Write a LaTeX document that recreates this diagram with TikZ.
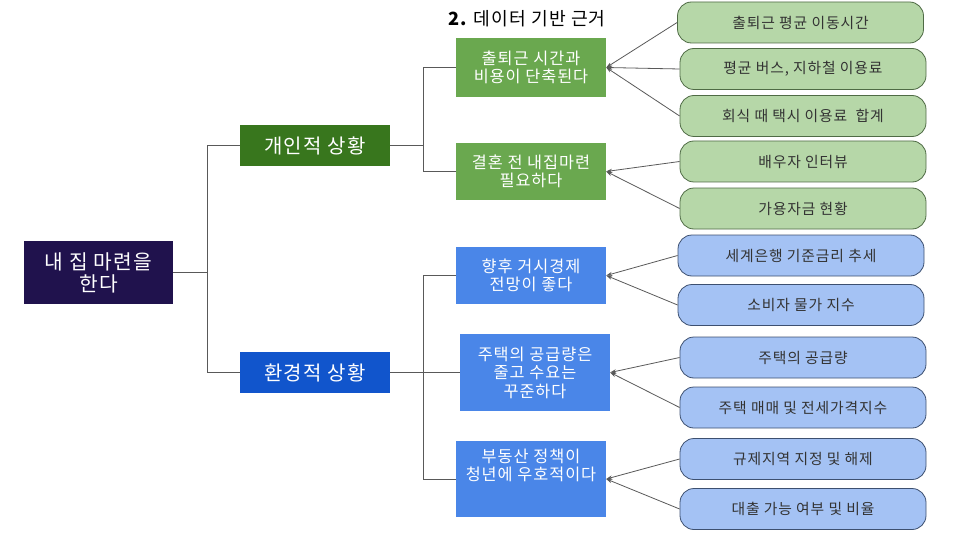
\documentclass[tikz,border=0pt]{standalone}
\usepackage{fontspec}
\newfontfamily\kr[LetterSpace=6]{Noto Sans CJK KR}
\usetikzlibrary{arrows.meta}
\definecolor{rootc}{HTML}{20124D}
\definecolor{persc}{HTML}{38761D}
\definecolor{envc}{HTML}{1155CC}
\definecolor{claimg}{HTML}{6AA84F}
\definecolor{claimb}{HTML}{4A86E8}
\definecolor{datag}{HTML}{B6D7A8}
\definecolor{datab}{HTML}{A4C2F4}
\definecolor{edgeg}{HTML}{4F6B45}
\definecolor{edgeb}{HTML}{3D5070}
\definecolor{linec}{HTML}{595959}
\definecolor{textc}{HTML}{333333}
\tikzset{
  rootbox/.style={fill=rootc, text=white, inner sep=0pt, minimum width=149pt, minimum height=63pt,
    align=center, font=\kr\fontsize{20.3}{22}\selectfont},
  sitbox/.style={text=white, inner sep=0pt, minimum width=150pt, minimum height=41pt,
    font=\kr\fontsize{20}{22}\selectfont},
  claimbox/.style={text=white, inner sep=0pt, minimum width=150pt, align=center,
    font=\kr\fontsize{16.3}{18.5}\selectfont},
  databox/.style={rounded corners=14pt, line width=0.8pt, text=textc, inner sep=0pt,
    minimum width=246pt, minimum height=41pt, font=\kr\fontsize{14.8}{17}\selectfont},
  link/.style={draw=linec, line width=0.8pt},
  cite/.style={link, -{Stealth[length=6pt,width=4pt]}}
}
\begin{document}
\begin{tikzpicture}[x=1pt,y=-1pt]
  \useasboundingbox (0,0) rectangle (960,540);
  \node[rootbox] (home) at (98.5,272.5) {내 집 마련을\\한다};
  \node[sitbox, fill=persc] (pers) at (315,145.5) {개인적 상황};
  \node[sitbox, fill=envc] (env) at (315,372.5) {환경적 상황};
  \node[font=\kr\fontsize{18.2}{20}\selectfont] (title) at (527,19) {{\bfseries 2.} 데이터 기반 근거};

  \node[claimbox, fill=claimg, minimum height=59pt] (commute) at (531,67.5) {출퇴근 시간과\\비용이 단축된다};
  \node[claimbox, fill=claimg, minimum height=57pt] (marry) at (531,171.5) {결혼 전 내집마련\\필요하다};
  \node[claimbox, fill=claimb, minimum height=57pt] (macro) at (531,275.5) {향후 거시경제\\전망이 좋다};
  \node[claimbox, fill=claimb, minimum height=77pt] (supply) at (535,372.5) {주택의 공급량은\\줄고 수요는\\꾸준하다};
  \node[claimbox, fill=claimb, minimum height=76pt, text depth=28pt] (policy) at (531,479) {부동산 정책이\\청년에 우호적이다};

  \node[databox, fill=datag, draw=edgeg] (g1) at (800.5,22.5) {출퇴근 평균 이동시간};
  \node[databox, fill=datag, draw=edgeg] (g2) at (803,69) {평균 버스, 지하철 이용료};
  \node[databox, fill=datag, draw=edgeg] (g3) at (803,116) {회식 때 택시 이용료\ \ 합계};
  \node[databox, fill=datag, draw=edgeg] (g4) at (803,161.5) {배우자 인터뷰};
  \node[databox, fill=datag, draw=edgeg] (g5) at (803,208.5) {가용자금 현황};
  \node[databox, fill=datab, draw=edgeb] (b1) at (801,255.5) {세계은행 기준금리 추세};
  \node[databox, fill=datab, draw=edgeb] (b2) at (801,305) {소비자 물가 지수};
  \node[databox, fill=datab, draw=edgeb] (b3) at (803,357.5) {주택의 공급량};
  \node[databox, fill=datab, draw=edgeb] (b4) at (803,407.5) {주택 매매 및 전세가격지수};
  \node[databox, fill=datab, draw=edgeb] (b5) at (803,459) {규제지역 지정 및 해제};
  \node[databox, fill=datab, draw=edgeb] (b6) at (803,509) {대출 가능 여부 및 비율};

  \draw[link] (home.east) -- ++(34,0) |- (pers.west);
  \draw[link] (home.east) -- ++(34,0) |- (env.west);
  \draw[link] (pers.east) -- ++(33,0) |- (commute.west);
  \draw[link] (pers.east) -- ++(33,0) |- (marry.west);
  \draw[link] (env.east) -- (supply.west);
  \draw[link] (env.east) -- ++(33,0) |- (macro.west);
  \draw[link] (env.east) -- ++(33,0) |- (policy.west);

  \draw[cite] (g1.west) -- (commute.east);
  \draw[cite] (g2.west) -- (commute.east);
  \draw[cite] (g3.west) -- (commute.east);
  \draw[cite] (g4.west) -- (marry.east);
  \draw[cite] (g5.west) -- (marry.east);
  \draw[cite] (b1.west) -- (macro.east);
  \draw[cite] (b2.west) -- (macro.east);
  \draw[cite] (b3.west) -- (supply.east);
  \draw[cite] (b4.west) -- (supply.east);
  \draw[cite] (b5.west) -- (policy.east);
  \draw[cite] (b6.west) -- (policy.east);
\end{tikzpicture}
\end{document}
